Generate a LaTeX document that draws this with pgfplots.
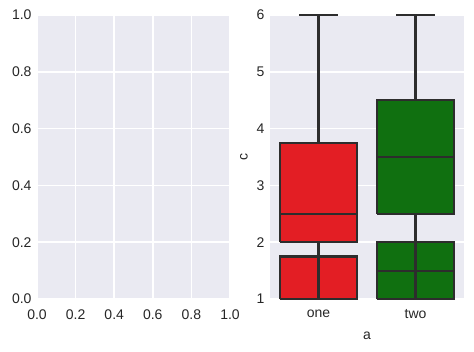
\documentclass[border=0pt]{standalone}
\usepackage{pgfplots}
\pgfplotsset{compat=1.18}
\usepackage{fontspec}
\setmainfont{Liberation Sans}
\definecolor{sbbg}{HTML}{EAEAF2}
\definecolor{boxred}{RGB}{227,30,36}
\definecolor{boxgreen}{RGB}{16,112,16}
\definecolor{edge}{RGB}{45,45,45}
\definecolor{txt}{RGB}{38,38,38}
\pgfplotsset{
  sbstyle/.style={
    scale only axis,
    axis background/.style={fill=sbbg},
    axis line style={draw=none},
    grid=major,
    major grid style={white, line width=1.6pt},
    major tick length=0pt,
    tick label style={font=\fontsize{14}{15}\selectfont, text=txt},
    label style={font=\fontsize{14}{15}\selectfont, text=txt},
    /pgf/number format/assume math mode=true,
    xticklabel style={yshift=-7pt},
    yticklabel style={xshift=-2pt},
  }
}
\begin{document}
\begin{tikzpicture}
\useasboundingbox (0pt,0pt) rectangle (474pt,351pt);
\begin{axis}[sbstyle, at={(37pt,52pt)}, anchor=south west, width=193pt, height=284pt,
  xmin=0, xmax=1, ymin=0, ymax=1,
  xtick={0,0.2,0.4,0.6,0.8,1.0}, ytick={0,0.2,0.4,0.6,0.8,1.0},
  xticklabels={0.0,0.2,0.4,0.6,0.8,1.0}, yticklabels={0.0,0.2,0.4,0.6,0.8,1.0}]
\addplot[draw=none] coordinates {(0,0)};
\end{axis}
\begin{axis}[sbstyle, at={(270pt,52pt)}, anchor=south west, width=194pt, height=284pt,
  xmin=-0.5, xmax=1.5, ymin=1, ymax=6,
  xtick={0,1}, xticklabels={one,two}, ytick={1,2,3,4,5,6},
  xlabel={a}, ylabel={c}, clip=false,
  xlabel style={yshift=-6pt}, ylabel style={yshift=2pt}]
% one: lower box
\addplot[fill=boxred, draw=edge, line width=2.2pt] coordinates {(-0.4,1) (0.4,1) (0.4,1.75) (-0.4,1.75) (-0.4,1)};
\addplot[draw=edge, line width=2.2pt] coordinates {(0,1) (0,6)};
\addplot[draw=edge, line width=2.2pt] coordinates {(-0.2,6) (0.2,6)};
\addplot[fill=boxred, draw=edge, line width=2.2pt] coordinates {(-0.4,2) (0.4,2) (0.4,3.75) (-0.4,3.75) (-0.4,2)};
\addplot[draw=edge, line width=2.2pt] coordinates {(-0.4,2.5) (0.4,2.5)};
% two: lower box
\addplot[fill=boxgreen, draw=edge, line width=2.2pt] coordinates {(0.6,1) (1.4,1) (1.4,2) (0.6,2) (0.6,1)};
\addplot[draw=edge, line width=2.2pt] coordinates {(0.6,1.5) (1.4,1.5)};
\addplot[draw=edge, line width=2.2pt] coordinates {(1,1) (1,6)};
\addplot[draw=edge, line width=2.2pt] coordinates {(0.8,6) (1.2,6)};
\addplot[fill=boxgreen, draw=edge, line width=2.2pt] coordinates {(0.6,2.5) (1.4,2.5) (1.4,4.5) (0.6,4.5) (0.6,2.5)};
\addplot[draw=edge, line width=2.2pt] coordinates {(0.6,3.5) (1.4,3.5)};
\end{axis}
\end{tikzpicture}
\end{document}
